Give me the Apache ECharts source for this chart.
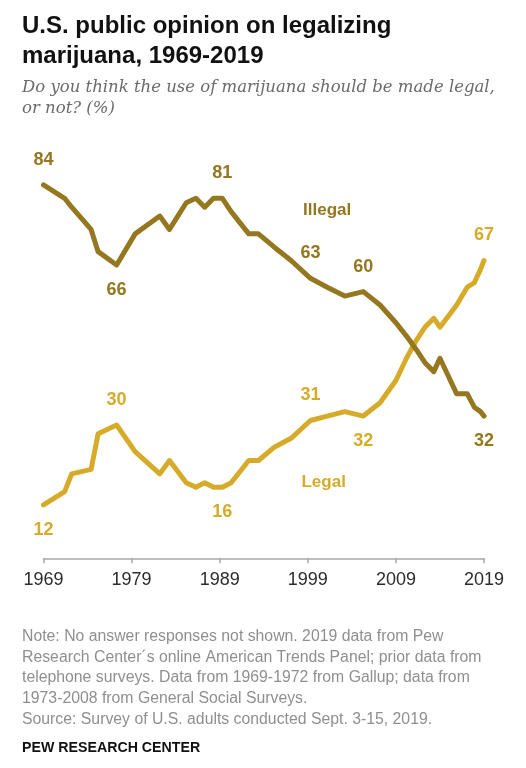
<!DOCTYPE html>
<html lang="en">
<head>
    <meta charset="UTF-8">
    <title>U.S. public opinion on legalizing marijuana</title>
    <script type="text/javascript" src="https://cdn.jsdelivr.net/npm/echarts@6/dist/echarts.min.js"></script>
    <style>
        html, body { margin: 0; padding: 0; background: #fff; }
    </style>
</head>
<body>
<div id="main" style="width: 526px;height:768px"></div>
<script type="text/javascript">
    // x positions (survey points, in years)
    var years = [1969.0, 1971.4, 1972.2, 1974.4, 1975.2, 1977.3, 1979.4, 1982.2, 1983.3, 1985.2,
                 1986.3, 1987.3, 1988.3, 1989.3, 1990.3, 1992.3, 1993.4, 1995.2, 1997.1, 1999.3,
                 2001.2, 2003.2, 2005.3, 2007.2, 2009.0, 2010.2, 2011.3, 2012.3, 2013.3, 2014.0,
                 2015.9, 2017.1, 2017.9, 2018.6, 2019.0];
    var illegal = [84, 81, 79, 74, 69, 66, 73, 77, 74, 80,
                   81, 79, 81, 81, 78, 73, 73, 70, 67, 63,
                   61, 59, 60, 57, 53, 50, 47, 44, 42, 45,
                   37, 37, 34, 33, 32];
    var legal = [12, 15, 19, 20, 28, 30, 24, 19, 22, 17,
                 16, 17, 16, 16, 17, 22, 22, 25, 27, 31,
                 32, 33, 32, 35, 40, 45, 49, 52, 54, 52,
                 57, 61, 62, 65, 67];
    // which points get a value label
    var illegalCallouts = [0, 5, 13, 19, 22, 34];
    var legalCallouts = [0, 5, 13, 19, 22, 34];
    var tickYears = [1969, 1979, 1989, 1999, 2009, 2019];
    var firstYear = 1969;
    // where the series names sit (year, value)
    var illegalTag = [2001.2, 78.4];
    var legalTag = [2000.8, 17.1];

    var illegalColor = '#94771f';
    var legalColor = '#d7ab2a';
    var illegalBelow = [5, 34];
    var legalBelow = [0, 13, 22];

    function buildData(vals, callouts, below, color) {
        var out = [];
        for (var i = 0; i < vals.length; i++) {
            var item = { value: [years[i] - firstYear, vals[i]] };
            if (callouts.indexOf(i) >= 0) {
                item.label = {
                    show: true,
                    position: below.indexOf(i) >= 0 ? 'bottom' : 'top',
                    distance: 16,
                    color: color,
                    fontSize: 18,
                    fontWeight: 'bold',
                    fontFamily: 'Liberation Sans'
                };
            }
            out.push(item);
        }
        return out;
    }

    function tag(name, at, color) {
        return {
            symbol: 'circle',
            symbolSize: 0,
            silent: true,
            label: {
                show: true, position: 'inside', formatter: name,
                color: color, fontSize: 17, fontWeight: 'bold', fontFamily: 'Liberation Sans'
            },
            data: [{ coord: [at[0] - firstYear, at[1]] }]
        };
    }

    var myChart = echarts.init(document.getElementById('main'), null, { renderer: 'canvas' });

    var option = {
        animation: false,
        backgroundColor: '#fff',
        title: [
            {
                text: 'U.S. public opinion on legalizing\nmarijuana, 1969-2019',
                left: 17, top: 6,
                textStyle: { fontSize: 24, fontWeight: 'bold', color: '#111', lineHeight: 30, fontFamily: 'Liberation Sans' }
            },
            {
                text: 'Do you think the use of marijuana should be made legal,\nor not? (%)',
                left: 17, top: 72,
                textStyle: { fontSize: 16.5, fontStyle: 'italic', fontWeight: 'normal', color: '#6b6b6b', lineHeight: 21, fontFamily: 'DejaVu Serif' }
            },
            {
                text: 'Note: No answer responses not shown. 2019 data from Pew\n' +
                      'Research Center\u00b4s online American Trends Panel; prior data from\n' +
                      'telephone surveys. Data from 1969-1972 from Gallup; data from\n' +
                      '1973-2008 from General Social Surveys.\n' +
                      'Source: Survey of U.S. adults conducted Sept. 3-15, 2019.',
                left: 17, top: 621,
                textStyle: { fontSize: 15.8, fontWeight: 'normal', color: '#8f8f8f', lineHeight: 20.8, fontFamily: 'Liberation Sans' }
            },
            {
                text: 'PEW RESEARCH CENTER',
                left: 17, top: 736,
                textStyle: { fontSize: 14.2, fontWeight: 'bold', color: '#111', fontFamily: 'Liberation Sans' }
            }
        ],
        grid: { left: 43.5, right: 42, top: 158.3, bottom: 209.7 },
        xAxis: {
            type: 'value',
            min: 0,
            max: 50,
            interval: 10,
            axisLine: { lineStyle: { color: '#a8a8a8', width: 1.5 } },
            axisTick: { show: true, length: 5, lineStyle: { color: '#a8a8a8', width: 1.5 } },
            axisLabel: {
                color: '#2b2b2b', fontSize: 18, margin: 13, fontFamily: 'Liberation Sans',
                formatter: function (v) { return String(tickYears[v / 10]); }
            },
            splitLine: { show: false }
        },
        yAxis: { type: 'value', min: 0, max: 90, show: false },
        series: [
            {
                name: 'Illegal',
                type: 'line',
                data: buildData(illegal, illegalCallouts, illegalBelow, illegalColor),
                symbol: 'circle', symbolSize: 0, showSymbol: true,
                lineStyle: { color: illegalColor, width: 5, cap: 'round', join: 'round' },
                itemStyle: { color: illegalColor },
                markPoint: tag('Illegal', illegalTag, illegalColor),
                z: 3
            },
            {
                name: 'Legal',
                type: 'line',
                data: buildData(legal, legalCallouts, legalBelow, legalColor),
                symbol: 'circle', symbolSize: 0, showSymbol: true,
                lineStyle: { color: legalColor, width: 5, cap: 'round', join: 'round' },
                itemStyle: { color: legalColor },
                markPoint: tag('Legal', legalTag, legalColor),
                z: 2
            }
        ]
    };

    option && myChart.setOption(option);
</script>
</body>
</html>
